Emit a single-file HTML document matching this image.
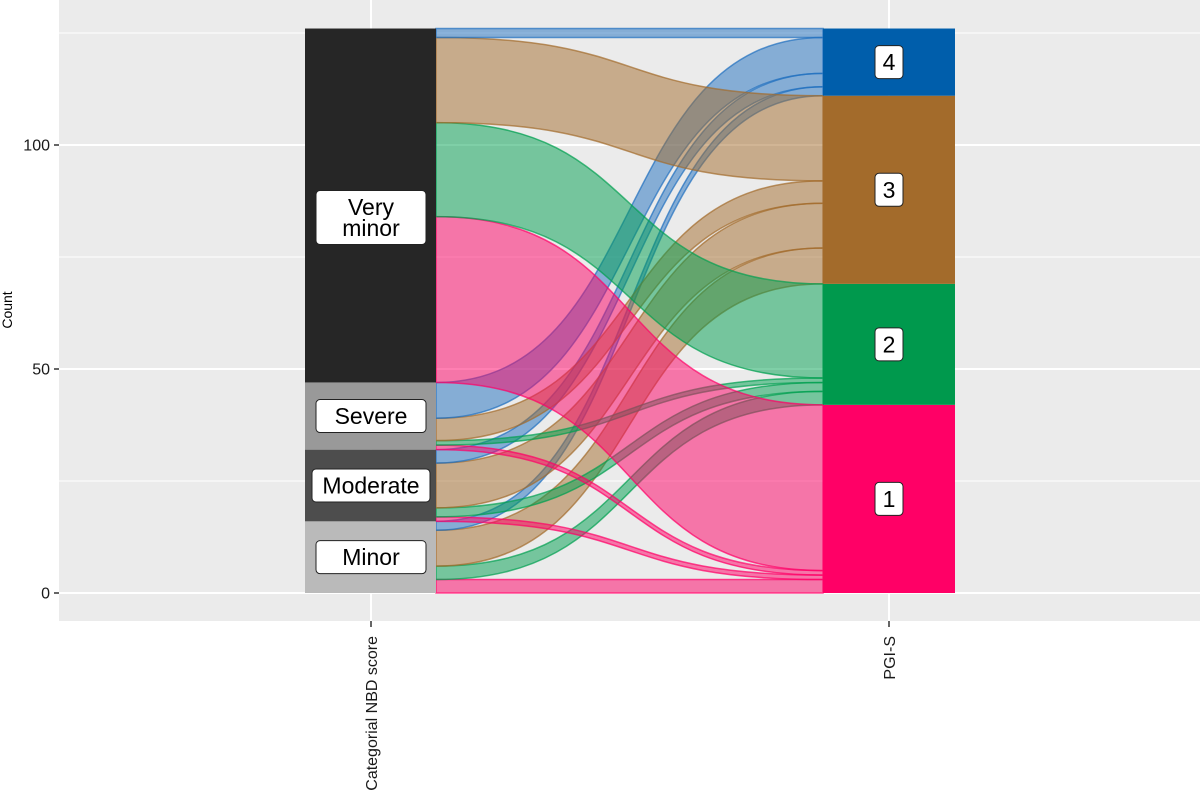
<!DOCTYPE html>
<html><head><meta charset="utf-8"><style>
body{margin:0;background:#fff;}
svg{display:block;font-family:"Liberation Sans",sans-serif;}
</style></head><body>
<svg id="chart" width="1200" height="797">
<rect x="59" y="0" width="1141" height="621" fill="#EBEBEB"/>
<g id="grid"></g><g id="flows"></g><g id="strata"></g><g id="axes"></g>
<text x="12" y="310" transform="rotate(-90 12 310)" text-anchor="middle" font-size="14" fill="#000">Count</text>
<text x="377" y="636" transform="rotate(-90 377 636)" text-anchor="end" font-size="16" fill="#1a1a1a">Categorial NBD score</text>
<text x="895" y="636" transform="rotate(-90 895 636)" text-anchor="end" font-size="16" fill="#1a1a1a">PGI-S</text>
</svg>
<script>
const leftCats = ["Minor","Moderate","Severe","Very minor"];
const rightCats = ["1","2","3","4"];
// counts[left][right]
const flowMinor = [3,3,8,2];
const flowModerate = [1,2,10,3];
const flowSevere = [1,1,5,8];
const flowVeryMinor = [37,21,19,2];
const yTicks = [0,50,100];
const yMinor = [25,75,125];
const counts = [flowMinor,flowModerate,flowSevere,flowVeryMinor];
const leftColors = ["#BABABA","#4D4D4D","#999999","#262626"];
const rightColors = ["#FF0066","#00994D","#A36B2B","#005EAB"];
const flowColors = ["#FF0066","#00A050","#A36B2B","#1F6FBF"];
const NS="http://www.w3.org/2000/svg";
const y = v => 593 - v*4.48;
const xL0=305,xL1=436,xR0=823,xR1=955,axL=371,axR=889;
function mk(tag,attrs,parent){const e=document.createElementNS(NS,tag);for(const k in attrs)e.setAttribute(k,attrs[k]);parent.appendChild(e);return e;}
const grid=document.getElementById('grid'),flows=document.getElementById('flows'),strata=document.getElementById('strata'),axes=document.getElementById('axes');
yMinor.forEach(v=>{const l=mk('line',{x1:59,x2:1200,y1:y(v),y2:y(v),stroke:'#fff','stroke-width':1},grid);

});
yTicks.forEach(v=>{const l=mk('line',{x1:59,x2:1200,y1:y(v),y2:y(v),stroke:'#fff','stroke-width':2},grid);


const t=mk('line',{x1:54,x2:59,y1:y(v),y2:y(v),stroke:'#333','stroke-width':1.5},axes);


const tx=mk('text',{x:50,y:y(v)+5.5,'text-anchor':'end','font-size':16,fill:'#1a1a1a'},axes);tx.textContent=v;

});
[axL,axR].forEach(x=>{const l=mk('line',{x1:x,x2:x,y1:0,y2:621,stroke:'#fff','stroke-width':2},grid);


const t=mk('line',{x1:x,x2:x,y1:621,y2:627,stroke:'#333','stroke-width':1.5},axes);

});
const leftTot=counts.map(r=>r.reduce((a,b)=>a+b,0));
const rightTot=rightCats.map((_,j)=>counts.reduce((a,r)=>a+r[j],0));
const leftStart=[],rightStart=[];let acc=0;leftTot.forEach((t,i)=>{leftStart[i]=acc;acc+=t;});
acc=0;rightTot.forEach((t,i)=>{rightStart[i]=acc;acc+=t;});
const lOff=leftStart.slice(),rOff=rightStart.slice();
const segs=[];
for(let i=0;i<4;i++)for(let j=0;j<4;j++){const n=counts[i][j];segs.push({i,j,l0:lOff[i],r0:0,n});lOff[i]+=n;}
for(let j=0;j<4;j++)for(let i=0;i<4;i++){const s=segs.find(s=>s.i===i&&s.j===j);s.r0=rOff[j];rOff[j]+=s.n;}
const c1=xL1+(xR0-xL1)*0.55,c2=xR0-(xR0-xL1)*0.55;
segs.forEach(s=>{if(!s.n)return;
const a0=y(s.l0),a1=y(s.l0+s.n),b0=y(s.r0),b1=y(s.r0+s.n);
const d=`M${xL1},${a0} C${c1},${a0} ${c2},${b0} ${xR0},${b0} L${xR0},${b1} C${c2},${b1} ${c1},${a1} ${xL1},${a1} Z`;
const p=mk('path',{d,fill:flowColors[s.j],'fill-opacity':0.5,stroke:flowColors[s.j],'stroke-opacity':0.7,'stroke-width':1.5},flows);

});
function label(cx,cy,lines,w,parent,name){const h=lines.length>1?54:33;
const g=mk('g',{},parent);


mk('rect',{x:cx-w/2,y:cy-h/2,width:w,height:h,rx:4,fill:'#fff',stroke:'#222','stroke-width':1},g);
lines.forEach((t,k)=>{const tx=mk('text',{x:cx,y:cy+8+(lines.length>1?(k-0.5)*21:0),'text-anchor':'middle','font-size':23,fill:'#000'},g);tx.textContent=t;});}
leftCats.forEach((c,i)=>{const r=mk('rect',{x:xL0,y:y(leftStart[i]+leftTot[i]),width:xL1-xL0,height:leftTot[i]*4.48,fill:leftColors[i]},strata);


let cy=y(leftStart[i]+leftTot[i]/2);
if(c==='Very minor')cy+=12;
label(axL,cy,c==='Very minor'?['Very','minor']:[c],c==='Moderate'?118:110,strata,'label-'+c.toLowerCase().replace(' ','-'));});
rightCats.forEach((c,j)=>{const r=mk('rect',{x:xR0,y:y(rightStart[j]+rightTot[j]),width:xR1-xR0,height:rightTot[j]*4.48,fill:rightColors[j]},strata);


label(axR,y(rightStart[j]+rightTot[j]/2),[c],28,strata,'label-pgis-'+c);});
</script>
</body></html>
